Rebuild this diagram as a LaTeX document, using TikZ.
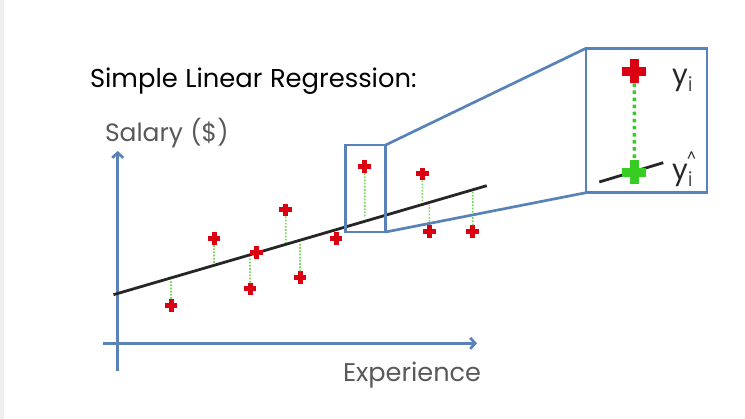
\documentclass[tikz,border=0pt]{standalone}
\usepackage{fontspec}
\setmainfont{Poppins}[WordSpace=1.1]
\usetikzlibrary{shapes.misc,arrows.meta}
\definecolor{axisblue}{RGB}{88,130,184}
\definecolor{pointred}{RGB}{218,0,18}
\definecolor{stemgreen}{RGB}{120,216,90}
\definecolor{fitgreen}{RGB}{54,204,34}
\definecolor{labelgray}{RGB}{89,89,89}
\definecolor{stripgray}{RGB}{238,238,238}
\newlength{\mydrawlinewidth}
\setlength{\mydrawlinewidth}{2.5pt}
\tikzset{
    plusmark/.style={
        cross out,draw=#1,rotate=45,
        line width=5pt,
        minimum size=9pt,
        inner sep=0pt,outer sep=0pt,
        },
    bigplusmark/.style={
        plusmark=#1,
        line width=9.4pt,
        minimum size=17pt,
        },
    stemline/.style={stemgreen,line width=1.6pt,dash pattern=on 1.7pt off 1.5pt},
    zoombox/.style={
        rectangle,draw=axisblue,
        line width=\mydrawlinewidth,
        inner sep=0pt,outer sep=0pt,
        },
    axisline/.style={
        axisblue,line width=2.7pt,
        -{Straight Barb[length=5pt,width=11pt]},
        },
    fitline/.style={black!85,line width=2.8pt},
    textlabel/.style={anchor=base west,inner sep=0pt,outer sep=0pt},
}
\begin{document}
\begin{tikzpicture}[x=1pt,y=-1pt]
    \useasboundingbox (0,0) rectangle (745,419);
    \fill[stripgray] (0,0) rectangle (4,419);
    % axes
    \coordinate (ystart) at (117.7,371);
    \coordinate (yend) at (117.7,151);
    \coordinate (xstart) at (103,343.3);
    \coordinate (xend) at (477,343.3);
    \draw[axisline] (ystart) -- (yend);
    \draw[axisline] (xstart) -- (xend);
    % points with the place where each stem stops
    \foreach \n/\x/\y/\ty in {%
        a/171/305.3/280,
        b/214/238.7/264,
        c/250/289/257,
        d/285.7/210/243,
        e/300/277.7/243,
        f/364.7/166.7/218,
        g/422.3/174/202,
        h/429.3/231.3/205,
        i/472.7/231.7/192}
    {
        \node[plusmark=pointred] (p\n) at (\x,\y) {};
        \coordinate (q\n) at (\x,\ty);
        \draw[stemline] (p\n) -- (q\n);
    }
    % fitted line
    \coordinate (fitstart) at (113.5,294.7);
    \coordinate (fitend) at (486.7,185.7);
    \draw[fitline] (fitstart) -- (fitend);
    \node[plusmark=pointred] (pj) at (256.7,252.7) {};
    \node[plusmark=pointred] (pk) at (336,238.3) {};
    % small box and its enlargement
    \node[zoombox,minimum width=40.4pt,minimum height=87pt] (smallbox) at (365.5,188.5) {};
    \node[zoombox,minimum width=121pt,minimum height=144.4pt] (bigbox) at (646.5,120.5) {};
    \draw[axisblue,line width=2.7pt] (smallbox.north east) -- (bigbox.north west);
    \draw[axisblue,line width=2.7pt] (smallbox.south east) -- (bigbox.south west);
    % inside the enlargement
    \coordinate (insetstart) at (599.3,182);
    \coordinate (insetend) at (663.3,162.7);
    \draw[fitline] (insetstart) -- (insetend);
    \node[bigplusmark=pointred] (bigred) at (634.3,71.3) {};
    \node[bigplusmark=fitgreen] (biggreen) at (634.3,172.3) {};
    \draw[fitgreen,line width=3.5pt,dash pattern=on 3.5pt off 3.6pt] (bigred) -- (biggreen);
    \node[textlabel,font=\fontsize{28}{28}\selectfont,black!85] (ylabel) at (672,85) {y\textsubscript{\textcolor{labelgray}{i}}};
    \node[textlabel,font=\fontsize{28}{28}\selectfont,black!85] (yhatlabel) at (672,180) {y\textsubscript{\textcolor{labelgray}{i}}\kern-6pt\raisebox{18pt}{\fontsize{14}{14}\selectfont\^{}}};
    % texts
    \node[textlabel,font=\fontsize{25.8}{25.8}\selectfont,black] (title) at (90,88) {Simple Linear Regression:};
    \node[textlabel,font=\fontsize{25}{25}\selectfont,labelgray] (salary) at (105,142) {Salary (\$)};
    \node[textlabel,font=\fontsize{25.6}{25.6}\selectfont,labelgray] (experience) at (343,382) {Experience};
\end{tikzpicture}
\end{document}
